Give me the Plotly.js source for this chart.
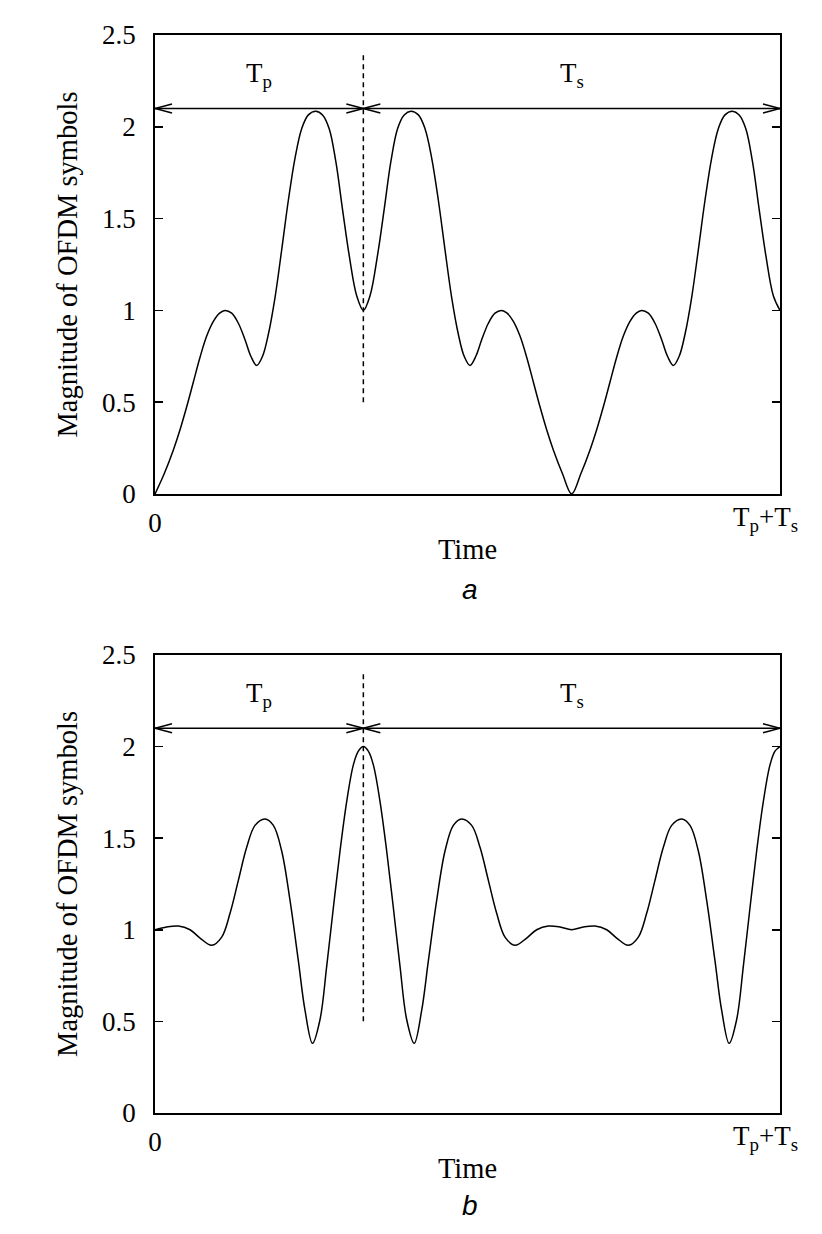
<!DOCTYPE html>
<html>
<head>
<meta charset="utf-8">
<script src="https://cdn.plot.ly/plotly-3.0.1.min.js"></script>
<style>html,body{margin:0;padding:0;background:#fff;}#chart{width:822px;height:1234px;}</style>
</head>
<body>
<div id="chart"></div>
<script>
// ---- data (time in units of Ts; Tp = 0.5, Tp+Ts = 1.5) ----
const timeA = [0, 0.022, 0.044, 0.060, 0.076, 0.092, 0.108, 0.124, 0.140, 0.155, 0.168, 0.184, 0.200, 0.216, 0.230, 0.244, 0.258, 0.272, 0.288, 0.304, 0.320, 0.336, 0.352, 0.368, 0.386, 0.402, 0.418, 0.434, 0.450, 0.466, 0.484, 0.500,
  0.516, 0.534, 0.550, 0.566, 0.582, 0.598, 0.614, 0.632, 0.648, 0.664, 0.680, 0.696, 0.712, 0.728, 0.742, 0.756, 0.770, 0.784, 0.800, 0.816, 0.832, 0.845, 0.860, 0.876, 0.892, 0.908, 0.924, 0.940, 0.956, 0.978, 1.000,
  1.022, 1.044, 1.060, 1.076, 1.092, 1.108, 1.124, 1.140, 1.155, 1.168, 1.184, 1.200, 1.216, 1.230, 1.244, 1.258, 1.272, 1.288, 1.304, 1.320, 1.336, 1.352, 1.368, 1.386, 1.402, 1.418, 1.434, 1.450, 1.466, 1.484, 1.500];
const magA = [0, 0.11, 0.24, 0.35, 0.475, 0.61, 0.745, 0.86, 0.94, 0.985, 1.0, 0.985, 0.93, 0.84, 0.75, 0.70, 0.75, 0.87, 1.07, 1.33, 1.60, 1.83, 1.99, 2.065, 2.085, 2.065, 1.99, 1.81, 1.55, 1.30, 1.08, 1.0,
  1.08, 1.30, 1.55, 1.81, 1.99, 2.065, 2.085, 2.065, 1.99, 1.83, 1.60, 1.33, 1.07, 0.87, 0.75, 0.70, 0.75, 0.84, 0.93, 0.985, 1.0, 0.985, 0.94, 0.86, 0.745, 0.61, 0.475, 0.35, 0.24, 0.11, 0,
  0.11, 0.24, 0.35, 0.475, 0.61, 0.745, 0.86, 0.94, 0.985, 1.0, 0.985, 0.93, 0.84, 0.75, 0.70, 0.75, 0.87, 1.07, 1.33, 1.60, 1.83, 1.99, 2.065, 2.085, 2.065, 1.99, 1.81, 1.55, 1.30, 1.08, 1.0];

const timeB = [0, 0.028, 0.056, 0.084, 0.108, 0.136, 0.160, 0.180, 0.200, 0.220, 0.240, 0.264, 0.284, 0.304, 0.324, 0.344, 0.360, 0.378, 0.396, 0.412, 0.428, 0.444, 0.460, 0.476, 0.488, 0.500,
  0.512, 0.524, 0.540, 0.556, 0.572, 0.588, 0.604, 0.622, 0.640, 0.656, 0.676, 0.696, 0.716, 0.736, 0.760, 0.780, 0.800, 0.820, 0.840, 0.864, 0.892, 0.916, 0.944, 0.972, 1.000,
  1.028, 1.056, 1.084, 1.108, 1.136, 1.160, 1.180, 1.200, 1.220, 1.240, 1.264, 1.284, 1.304, 1.324, 1.344, 1.360, 1.378, 1.396, 1.412, 1.428, 1.444, 1.460, 1.476, 1.488, 1.500];
const magB = [1.0, 1.015, 1.02, 1.0, 0.955, 0.915, 0.96, 1.09, 1.27, 1.45, 1.57, 1.605, 1.57, 1.43, 1.16, 0.83, 0.56, 0.38, 0.51, 0.8, 1.12, 1.43, 1.70, 1.90, 1.975, 2.0,
  1.975, 1.90, 1.70, 1.43, 1.12, 0.8, 0.51, 0.38, 0.56, 0.83, 1.16, 1.43, 1.57, 1.605, 1.57, 1.45, 1.27, 1.09, 0.96, 0.915, 0.955, 1.0, 1.02, 1.015, 1.0,
  1.015, 1.02, 1.0, 0.955, 0.915, 0.96, 1.09, 1.27, 1.45, 1.57, 1.605, 1.57, 1.43, 1.16, 0.83, 0.56, 0.38, 0.51, 0.8, 1.12, 1.43, 1.70, 1.90, 1.975, 2.0];

const yTickVals = [0, 0.5, 1, 1.5, 2, 2.5];
const yTickText = ['0', '0.5', '1', '1.5', '2', '2.5'];
const xStartLabel = ['0'];
const xEndLabel = 'T<sub>p</sub>+T<sub>s</sub>';
const spanBounds = [0, 0.5, 1.5];          // 0, Tp, Tp+Ts
const spanLabels = ['T<sub>p</sub>', 'T<sub>s</sub>'];
const arrowLevel = 2.1;
const labelLevel = 2.28;
const boundaryLine = [0.5, 2.4];            // dotted line y-extent at x = Tp
const panelLabels = ['a', 'b'];

// ---- styling ----
const serif = 'Liberation Serif, Times New Roman, serif';
const FS = 27;
const TFS = 28.5;
const black = '#000';

function yAxis(domain, anchor) {
  return {
    domain: domain, anchor: anchor, range: [0, 2.5],
    tickvals: yTickVals, ticktext: yTickText,
    ticks: 'inside', ticklen: 8, tickwidth: 1.5, tickcolor: black,
    showline: true, linewidth: 2, linecolor: black, mirror: 'ticks',
    showgrid: false, zeroline: false,
    tickfont: {family: serif, size: FS, color: black},
    ticklabelstandoff: 12,
    title: {text: 'Magnitude of OFDM symbols', font: {family: serif, size: TFS, color: black}, standoff: 16}
  };
}
function xAxis(domain, anchor) {
  return {
    domain: domain, anchor: anchor, range: [0, 1.5],
    tickvals: [spanBounds[0]], ticktext: xStartLabel, ticks: '',
    showline: true, linewidth: 2, linecolor: black, mirror: true,
    showgrid: false, zeroline: false,
    tickfont: {family: serif, size: FS, color: black},
    ticklabelstandoff: 4,
    title: {text: 'Time', font: {family: serif, size: TFS, color: black}, standoff: 2}
  };
}

const xd = [0.1886, 0.9489];
const traces = [
  {x: timeA, y: magA, xaxis: 'x', yaxis: 'y', mode: 'lines', line: {color: black, width: 1.5, shape: 'spline', smoothing: 1}, hoverinfo: 'skip', showlegend: false, cliponaxis: true},
  {x: timeB, y: magB, xaxis: 'x2', yaxis: 'y2', mode: 'lines', line: {color: black, width: 1.5, shape: 'spline', smoothing: 1}, hoverinfo: 'skip', showlegend: false, cliponaxis: true}
];

const shapes = [];
const annotations = [];
const headLen = 17, headHalf = 4.5;
[['x', 'y'], ['x2', 'y2']].forEach(function (ax, i) {
  const xr = ax[0], yr = ax[1];
  shapes.push({type: 'line', xref: xr, yref: yr, x0: spanBounds[0], x1: spanBounds[spanBounds.length - 1], y0: arrowLevel, y1: arrowLevel, line: {color: black, width: 1.5}});
  shapes.push({type: 'line', xref: xr, yref: yr, x0: spanBounds[1], x1: spanBounds[1], y0: boundaryLine[0], y1: boundaryLine[1], line: {color: black, width: 1.5, dash: '5px,4px'}});
  for (let s = 0; s < spanBounds.length - 1; s++) {
    const a = spanBounds[s], b = spanBounds[s + 1];
    [[a, 1], [b, -1]].forEach(function (p) {
      [1, -1].forEach(function (sg) {
        shapes.push({type: 'line', xref: xr, yref: yr,
          xsizemode: 'pixel', xanchor: p[0], x0: 0, x1: p[1] * headLen,
          ysizemode: 'pixel', yanchor: arrowLevel, y0: 0, y1: sg * headHalf,
          line: {color: black, width: 1.5}});
      });
    });
    annotations.push({xref: xr, yref: yr, x: (a + b) / 2, y: labelLevel, text: spanLabels[s], showarrow: false,
      font: {family: serif, size: FS, color: black}, xanchor: 'center', yanchor: 'middle'});
  }
  annotations.push({xref: xr, yref: yr, x: spanBounds[spanBounds.length - 1], y: 0, text: xEndLabel, showarrow: false,
    font: {family: serif, size: FS, color: black}, xanchor: 'right', yanchor: 'top', xshift: 20, yshift: -6});
});
annotations.push({xref: 'paper', yref: 'paper', x: 0.572, y: 0.5219, text: panelLabels[0], showarrow: false,
  font: {family: 'Liberation Sans, Arial, sans-serif', size: 28, color: black, style: 'italic'}, xanchor: 'center', yanchor: 'middle'});
annotations.push({xref: 'paper', yref: 'paper', x: 0.572, y: 0.0235, text: panelLabels[1], showarrow: false,
  font: {family: 'Liberation Sans, Arial, sans-serif', size: 28, color: black, style: 'italic'}, xanchor: 'center', yanchor: 'middle'});

const layout = {
  width: 822, height: 1234,
  margin: {l: 0, r: 0, t: 0, b: 0},
  paper_bgcolor: '#fff', plot_bgcolor: '#fff',
  showlegend: false,
  xaxis: xAxis(xd, 'y'),
  yaxis: yAxis([0.5997, 0.9716], 'x'),
  xaxis2: xAxis(xd, 'y2'),
  yaxis2: yAxis([0.0981, 0.4692], 'x2'),
  shapes: shapes,
  annotations: annotations
};

Plotly.newPlot('chart', traces, layout, {staticPlot: true, displayModeBar: false});
</script>
</body>
</html>
